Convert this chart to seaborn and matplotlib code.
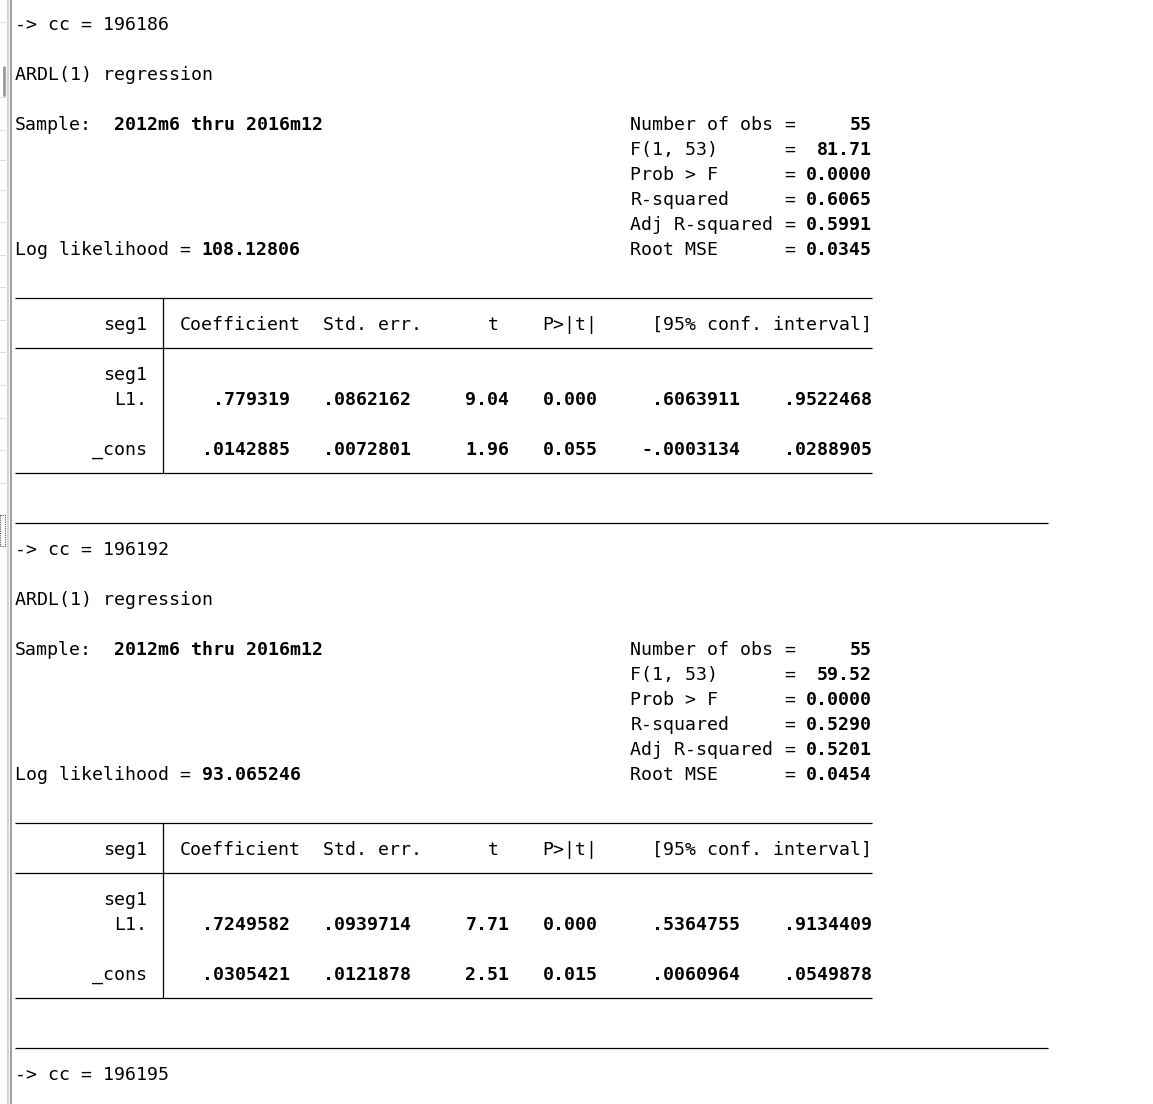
import matplotlib
matplotlib.use("Agg")
import matplotlib.pyplot as plt
import seaborn as sns
import pandas as pd
from matplotlib.patches import Rectangle

# ---------------- data ----------------
cc_ids = [196186, 196192, 196195]
sample_txt = ["2012m6 thru 2016m12", "2012m6 thru 2016m12"]
log_lik = [108.12806, 93.065246]
n_obs = [55, 55]
f_df = ["F(1, 53)", "F(1, 53)"]
f_stat = [81.71, 59.52]
prob_f = [0.0000, 0.0000]
r2 = [0.6065, 0.5290]
adj_r2 = [0.5991, 0.5201]
root_mse = [0.0345, 0.0454]

coef_l1 = [0.779319, 0.7249582]
coef_cons = [0.0142885, 0.0305421]
se_l1 = [0.0862162, 0.0939714]
se_cons = [0.0072801, 0.0121878]
t_l1 = [9.04, 7.71]
t_cons = [1.96, 2.51]
p_l1 = [0.000, 0.000]
p_cons = [0.055, 0.015]
ci_lo_l1 = [0.6063911, 0.5364755]
ci_lo_cons = [-0.0003134, 0.0060964]
ci_hi_l1 = [0.9522468, 0.9134409]
ci_hi_cons = [0.0288905, 0.0549878]

dep_var = "seg1"
header_cols = ["Coefficient", "Std. err.", "t", "P>|t|", "[95% conf. interval]"]

# ---------------- style ----------------
sns.set_theme(style="white")
plt.rcParams["font.family"] = ["DejaVu Sans Mono"]

W = 10.987          # char width in px
X0 = 15.0           # left of column 0
Y0 = 23.0           # centre of row 0
RH = 25.0           # row height
BLOCK = 21          # rows per block
FS = 13.14
LINE_RIGHT = X0 + 78 * W
SEP_RIGHT = 1048

fig = plt.figure(figsize=(11.53, 11.04), dpi=100)
ax = fig.add_axes([0, 0, 1, 1])
ax.set_xlim(0, 1153)
ax.set_ylim(1104, 0)
ax.axis("off")


def row_y(row, block):
    return Y0 + RH * (row + BLOCK * block)


def put(col, row, s, block=0, bold=False):
    ax.text(X0 + col * W, row_y(row, block) + 7.0, s, ha="left", va="baseline",
            fontsize=FS, fontweight="bold" if bold else "normal", color="black")


def put_right(end_col, row, s, block=0, bold=True):
    put(end_col - len(s), row, s, block, bold)


def stata_g(v):
    s = f"{v:.7g}"
    if s.startswith("0."):
        s = s[1:]
    elif s.startswith("-0."):
        s = "-" + s[2:]
    return s


table = pd.DataFrame({
    "coef_l1": coef_l1, "coef_cons": coef_cons, "se_l1": se_l1, "se_cons": se_cons,
    "t_l1": t_l1, "t_cons": t_cons, "p_l1": p_l1, "p_cons": p_cons,
    "lo_l1": ci_lo_l1, "lo_cons": ci_lo_cons, "hi_l1": ci_hi_l1, "hi_cons": ci_hi_cons,
})

lk = dict(color="black", lw=0.9, solid_capstyle="butt")

for b in range(len(log_lik)):
    put(0, 0, f"-> cc = {cc_ids[b]}", b)
    put(0, 2, "ARDL(1) regression", b)
    put(0, 4, "Sample:", b)
    put(9, 4, sample_txt[b], b, bold=True)
    put(0, 9, "Log likelihood =", b)
    put(17, 9, f"{log_lik[b]:.8g}", b, bold=True)

    stats = [("Number of obs", f"{n_obs[b]}"),
             (f_df[b], f"{f_stat[b]:.2f}"),
             ("Prob > F", f"{prob_f[b]:.4f}"),
             ("R-squared", f"{r2[b]:.4f}"),
             ("Adj R-squared", f"{adj_r2[b]:.4f}"),
             ("Root MSE", f"{root_mse[b]:.4f}")]
    for i, (lab, val) in enumerate(stats):
        put(56, 4 + i, lab, b)
        put(70, 4 + i, "=", b)
        put_right(78, 4 + i, val, b)

    # header row
    put(8, 12, dep_var, b)
    put(15, 12, header_cols[0], b)
    put(28, 12, header_cols[1], b)
    put(43, 12, header_cols[2], b)
    put(48, 12, header_cols[3], b)
    put(58, 12, header_cols[4], b)

    r = table.iloc[b]
    put(8, 14, dep_var, b)
    put(9, 15, "L1.", b)
    put(7, 17, "_cons", b)
    for row, sfx in [(15, "l1"), (17, "cons")]:
        put_right(25, row, stata_g(r[f"coef_{sfx}"]), b)
        put_right(36, row, stata_g(r[f"se_{sfx}"]), b)
        put_right(45, row, f"{r[f't_{sfx}']:.2f}", b)
        put_right(53, row, f"{r[f'p_{sfx}']:.3f}", b)
        put_right(66, row, stata_g(r[f"lo_{sfx}"]), b)
        put_right(78, row, stata_g(r[f"hi_{sfx}"]), b)

    for rr in (11, 13, 18):
        y = row_y(rr, b)
        ax.plot([X0, LINE_RIGHT], [y, y], **lk)
    xv = X0 + 13.5 * W
    ax.plot([xv, xv], [row_y(11, b), row_y(18, b)], **lk)
    ys = row_y(20, b)
    ax.plot([X0, SEP_RIGHT], [ys, ys], **lk)

# start of third block
put(0, 0, f"-> cc = {cc_ids[2]}", 2)

# window chrome on the left edge
ax.plot([8, 8], [0, 1104], color="#d4d4d4", lw=1.6)
ax.plot([10.8, 10.8], [0, 1104], color="#8c8c8c", lw=1.2)
for yt in [22, 97, 130, 160, 190, 222, 255, 287, 320, 352, 385, 418, 450, 483]:
    ax.plot([0, 5], [yt, yt], color="#dcdcdc", lw=0.8)
ax.plot([4, 4], [67, 95], color="#9a9a9a", lw=2.0)
ax.add_patch(Rectangle((0, 515), 5, 31, fill=False, ec="#555555", lw=0.8, ls=(0, (1, 1))))

fig.savefig("out.png", dpi=100, facecolor="white")
